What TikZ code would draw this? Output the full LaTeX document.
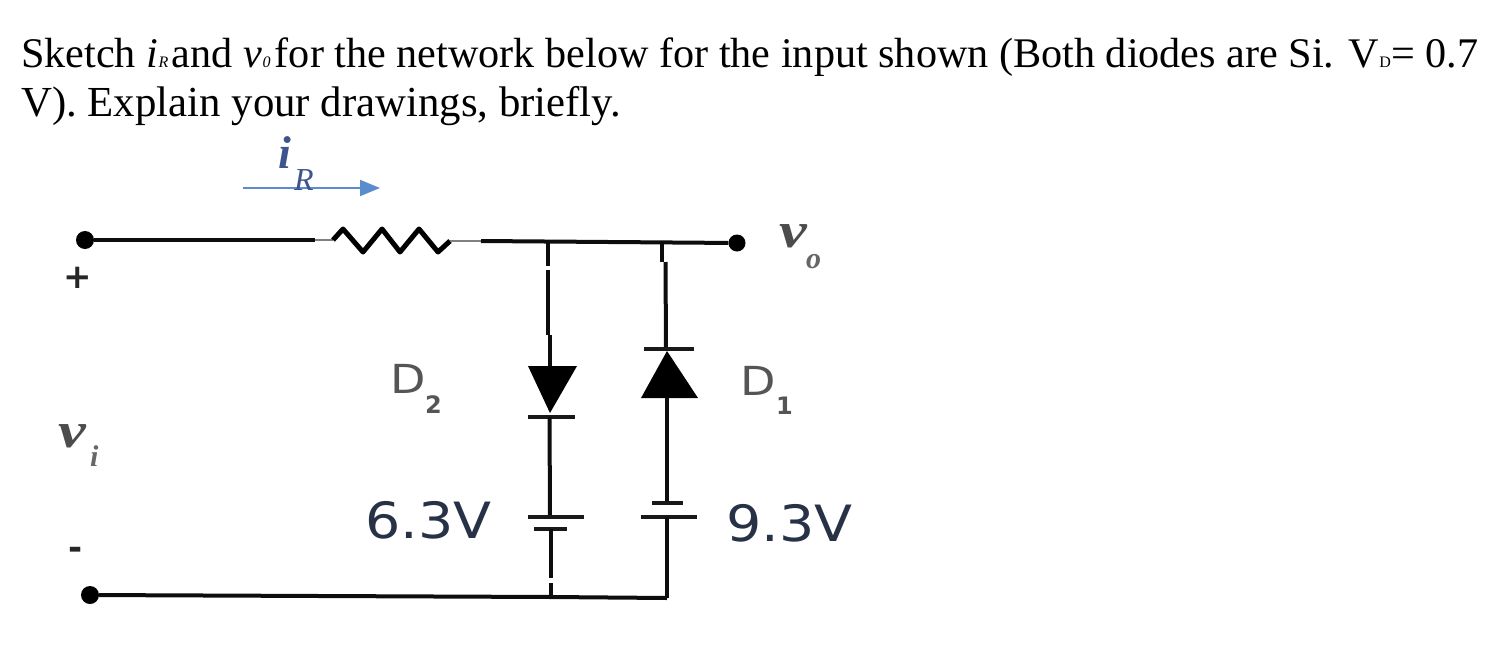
\documentclass[tikz,border=0pt]{standalone}
\usepackage{fontspec}
\setmainfont{Liberation Serif}
\newfontfamily\lblfont{DejaVu Sans}
\usetikzlibrary{arrows.meta}
\definecolor{curblue}{RGB}{91,141,205}
\definecolor{curtext}{RGB}{62,84,140}
\definecolor{lblgray}{RGB}{85,85,85}
\definecolor{lbldark}{RGB}{40,50,70}
\tikzset{
  wire/.style={line width=4pt,black!95,line cap=butt},
  thinwire/.style={line width=1.2pt,black!50},
  zig/.style={line width=5pt,black,line join=round},
  plate/.style={line width=4.2pt,black!90},
  termdot/.style={circle,fill=black,inner sep=0pt,minimum size=18pt},
  smalldot/.style={circle,fill=black,inner sep=0pt,minimum size=17pt},
  qtext/.style={anchor=base west,inner sep=0pt,font=\fontsize{42.2}{46}\selectfont},
  qsub/.style={anchor=base west,inner sep=0pt,font=\fontsize{16}{16}\selectfont},
  lbl/.style={inner sep=0pt,anchor=base west,font=\lblfont\fontsize{50}{50}\selectfont,lbldark,xscale=1.11},
  dlbl/.style={inner sep=0pt,anchor=base west,font=\lblfont\fontsize{40}{40}\selectfont,lblgray,xscale=1.15},
  dsub/.style={inner sep=0pt,anchor=base west,font=\lblfont\bfseries\fontsize{24}{24}\selectfont,lblgray},
  vlbl/.style={inner sep=0pt,anchor=base west,font=\itshape\bfseries\fontsize{50}{50}\selectfont,black!70,xscale=1.25},
  vsub/.style={inner sep=0pt,anchor=base west,font=\itshape\bfseries\fontsize{30}{30}\selectfont,black!60},
  sym/.style={inner sep=0pt,font=\lblfont\bfseries\fontsize{34}{34}\selectfont,black!85}
}
\begin{document}
\begin{tikzpicture}[x=1pt,y=-1pt]
\useasboundingbox (0,0) rectangle (1512,648);
% question text
\node[qtext] (l1a) at (21,67) {Sketch \textit{i}\hspace{1pt}};
\node[qsub,font=\itshape\fontsize{16}{16}\selectfont] (l1b) at (l1a.base east) {R};
\node[qtext] (l1c) at ([xshift=3pt]l1b.base east) {and \textit{v}};
\node[qsub,font=\itshape\fontsize{16}{16}\selectfont] (l1d) at (l1c.base east) {0};
\node[qtext] (l1e) at ([xshift=4pt]l1d.base east) {for the network below for the input shown (Both diodes are Si. V};
\node[qsub] (l1f) at (l1e.base east) {D};
\node[qtext] (l1g) at (l1f.base east) {= 0.7};
\node[qtext,font=\fontsize{42.8}{46}\selectfont] (l2) at (21,116) {V). Explain your drawings, briefly.};
% coordinates
\node[termdot] (tl) at (85,240) {};
\node[smalldot] (tr) at (737,243) {};
\node[termdot] (bl) at (90,595) {};
\coordinate (w1) at (315,240);
\coordinate (r1) at (333,240);
\coordinate (r2) at (450,241);
\coordinate (w2) at (481,241);
\coordinate (j2) at (548,241);
\coordinate (j1) at (662,241);
\coordinate (g2) at (551,597);
\coordinate (g1) at (667,598);
% main wires
\draw[wire] (tl) -- (w1);
\draw[thinwire] (w1) -- (r1);
\draw[zig] (r1) -- (343,229) -- (363,252) -- (382,229) -- (400,252) -- (419,229) -- (438,252) -- (r2);
\draw[thinwire] (r2) -- (w2);
\draw[wire] (w2) -- (tr);
\draw[wire] (bl) -- (g2) -- (g1);
% D2 branch
\coordinate (d2t) at (549.5,367);
\coordinate (d2b) at (549.5,417);
\draw[wire] (j2) -- (548,266);
\draw[wire] (547.5,270) -- (547.5,335);
\draw[wire] (549.5,335) -- (d2t);
\fill (528,366) -- (577,366) -- (550,413) -- cycle;
\draw[plate] (528,417) -- (575,417);
\draw[wire] (d2b) -- (550,517);
\draw[plate] (528,517) -- (584,517);
\draw[plate] (534,529) -- (567,529);
\draw[wire] (551,529) -- (551,578);
\draw[wire] (551,583) -- (g2);
% D1 branch
\coordinate (d1t) at (666,349);
\coordinate (d1b) at (667,398);
\draw[wire] (j1) -- (662,262);
\draw[wire] (665.5,262) -- (d1t);
\draw[plate] (644,349) -- (694,349);
\fill (667,351) -- (698,398) -- (641,398) -- cycle;
\draw[wire] (d1b) -- (667,503);
\draw[plate] (652,503) -- (683,503);
\draw[plate] (641,517) -- (697,517);
\draw[wire] (667,517) -- (g1);
% current arrow
\draw[curblue,line width=2pt,-{Triangle[length=20pt,width=16pt]}] (243,188) -- (380,188);
\node[inner sep=0pt,anchor=base west,font=\itshape\bfseries\fontsize{46}{46}\selectfont,curtext] (ii) at (278,168) {i};
\node[inner sep=0pt,anchor=base west,font=\itshape\fontsize{32}{32}\selectfont,curtext] (ir) at (294,190) {R};
% labels
\node[sym] (plus) at (78,278) {+};
\node[sym] (minus) at (76,553) {-};
\node[vlbl] (vi) at (58,447) {v};
\node[vsub] (vis) at (90,466) {i};
\node[vlbl] (vo) at (779,247) {v};
\node[vsub] (vos) at (806,268) {o};
\node[dlbl] (d2) at (390,393) {D};
\node[dsub] (d2s) at (425,413) {2};
\node[dlbl] (d1) at (740,395) {D};
\node[dsub] (d1s) at (776,414) {1};
\node[lbl] (v63) at (365,538) {6.3V};
\node[lbl] (v93) at (726,541) {9.3V};
\end{tikzpicture}
\end{document}
